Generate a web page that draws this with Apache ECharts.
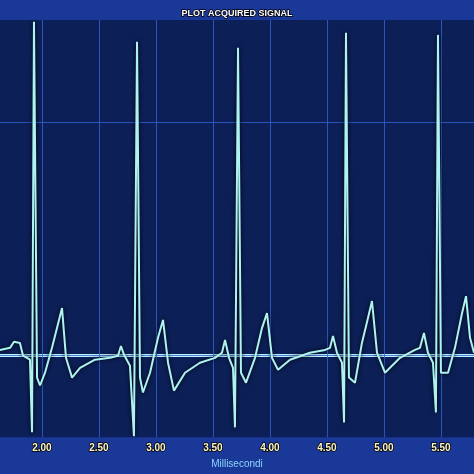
<!DOCTYPE html>
<html><head><meta charset="utf-8">
<script src="https://cdn.jsdelivr.net/npm/echarts@6/dist/echarts.min.js"></script>
<style>html,body{margin:0;padding:0;background:#1a3897;}#main{width:474px;height:474px;}</style>
</head><body><div id="main"></div>
<script>
// acquired signal, time (ms) and amplitude
var times = [1.632,1.720,1.755,1.807,1.834,1.895,1.904,1.913,1.930,1.957,1.983,2.027,2.088,2.132,2.176,2.211,2.264,2.334,2.465,2.597,2.667,2.693,2.720,2.772,
  2.807,2.834,2.860,2.886,2.948,3.018,3.062,3.106,3.158,3.255,3.386,3.518,3.579,3.606,3.641,3.676,
  3.693,3.720,3.746,3.790,3.869,3.930,3.974,4.018,4.071,4.176,4.351,4.483,4.527,4.553,4.588,4.632,
  4.650,4.667,4.693,4.746,4.807,4.860,4.895,4.939,5.009,5.141,5.272,5.316,5.351,5.386,5.430,
  5.456,5.474,5.500,5.562,5.623,5.685,5.720,5.755,5.790];
var amps = [0.021,0.030,0.056,0.051,-0.004,-0.021,-0.013,-0.333,1.432,-0.098,-0.132,-0.077,0.030,0.115,0.201,-0.013,-0.098,-0.056,-0.021,-0.013,-0.004,0.038,0,-0.047,
  -0.35,1.346,-0.098,-0.162,-0.077,0.073,0.150,-0.034,-0.154,-0.077,-0.034,-0.013,0.009,0.064,-0.013,-0.056,
  -0.312,1.321,-0.077,-0.120,-0.013,0.115,0.179,-0.013,-0.064,-0.021,0.009,0.021,0.030,0.081,0.009,-0.034,
  -0.291,1.385,-0.098,-0.120,0.051,0.158,0.231,0.009,-0.077,-0.013,0.021,0.030,0.094,0.009,-0.034,
  -0.248,1.376,-0.077,-0.077,0.030,0.179,0.252,0.073,0.009];
var xTicks = [2, 2.5, 3, 3.5, 4, 4.5, 5, 5.5];
var yLevels = [0, 1];

var chart = echarts.init(document.getElementById('main'));
var data = times.map((t, i) => [t, amps[i]]);
chart.setOption({
    animation: false,
    title: {
        text: 'PLOT ACQUIRED SIGNAL', left: 'center', top: 4,
        textStyle: {color: '#ffffff', fontSize: 9, fontWeight: 'bold', fontFamily: 'Liberation Sans',
            textBorderColor: '#000', textBorderWidth: 1.5}
    },
    grid: {left: 0, right: 0, top: 20, bottom: 33, show: true, backgroundColor: '#0c1f57', borderWidth: 0},
    xAxis: {
        type: 'value', min: 1.632, max: 5.79,
        name: 'Millisecondi', nameLocation: 'middle', nameGap: 20,
        nameTextStyle: {color: '#8fd3ff', fontSize: 10, fontFamily: 'Liberation Sans'},
        axisLine: {lineStyle: {color: '#bdf3ff', width: 3}},
        axisTick: {show: false},
        axisLabel: {color: '#fff6c8', fontSize: 10, fontWeight: 'bold', fontFamily: 'Liberation Sans',
            margin: 6, textBorderColor: '#000', textBorderWidth: 1.5,
            formatter: v => v.toFixed(2), customValues: xTicks},
        splitLine: {show: false}
    },
    yAxis: {
        type: 'value', min: -0.355, max: 1.44,
        axisLine: {show: false}, axisTick: {show: false}, axisLabel: {show: false}, splitLine: {show: false}
    },
    series: [{
        type: 'line', data: data, symbol: 'none',
        lineStyle: {color: '#aef3f0', width: 2, shadowColor: '#000', shadowBlur: 4},
        markLine: {
            silent: true, symbol: 'none', label: {show: false},
            lineStyle: {color: '#3563d6', type: 'solid', width: 1, opacity: 0.8},
            data: xTicks.map(v => ({xAxis: v})).concat(yLevels.map(v => ({yAxis: v})))
        },
        z: 5
    }]
});
</script></body></html>
